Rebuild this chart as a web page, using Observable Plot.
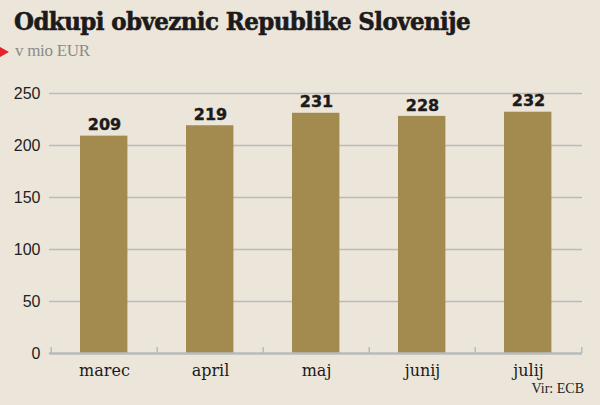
<!DOCTYPE html>
<html>
<head>
<meta charset="utf-8">
<script src="https://cdn.jsdelivr.net/npm/d3@7"></script>
<script src="https://cdn.jsdelivr.net/npm/@observablehq/plot@0.6"></script>
<style>
  html, body { margin: 0; padding: 0; background: #ece6da; }
  #wrap { position: relative; width: 600px; height: 405px; overflow: hidden; background: #ece6da; }
  #title { position: absolute; left: 14px; top: 7px; font-family: "DejaVu Serif", serif; font-weight: 900; font-size: 24px; color: #1c1a1a; white-space: nowrap; letter-spacing: -0.6px; transform-origin: 0 0; -webkit-text-stroke: 0.6px #1c1a1a; }
  #tri { position: absolute; left: 0; top: 47px; width: 0; height: 0; border-top: 5px solid transparent; border-bottom: 5px solid transparent; border-left: 9px solid #e3222b; }
  #subtitle { position: absolute; left: 15px; top: 41px; font-family: "Liberation Serif", serif; font-size: 17px; color: #8a8a8a; white-space: nowrap; letter-spacing: -0.3px; }
  #chart { position: absolute; left: 0; top: 70px; }
  #caption { position: absolute; right: 16px; top: 381px; font-family: "Liberation Serif", serif; font-size: 14px; color: #222; white-space: nowrap; }
</style>
</head>
<body>
<div id="wrap">
  <div id="title">Odkupi obveznic Republike Slovenije</div>
  <div id="tri"></div>
  <div id="subtitle">v mio EUR</div>
  <div id="chart"></div>
  <div id="caption">Vir: ECB</div>
</div>
<script>
const months = ["marec", "april", "maj", "junij", "julij"];
const values = [209, 219, 231, 228, 232];
const yTicks = [0, 50, 100, 150, 200, 250];

const data = months.map((m, i) => ({month: m, value: values[i]}));

const W = 600, H = 335, mL = 49, mR = 18;
const step = (W - mL - mR) / months.length;

const chart = Plot.plot({
  width: W,
  height: H,
  marginLeft: mL,
  marginRight: mR,
  marginTop: 23,
  marginBottom: 52,
  style: {background: "transparent", overflow: "visible"},
  x: {domain: months, padding: 0},
  y: {domain: [0, 250]},
  marks: [
    Plot.gridY(yTicks.filter(v => v > 0), {stroke: "#b7bbbd", strokeOpacity: 1, strokeWidth: 1.6}),
    Plot.axisY({ticks: yTicks, tickSize: 0, tickPadding: 9, fontSize: 16, fontFamily: "Liberation Sans, sans-serif", fill: "#222", label: null}),
    Plot.barY(data, {x: "month", y: "value", fill: "#a38b4f", insetLeft: 29, insetRight: 29.6}),
    Plot.ruleY([0], {stroke: "#b7bbbd", strokeWidth: 2.5}),
    Plot.ruleX(months, {x: d => d, dx: -step / 2, y1: 0, y2: 0, insetTop: -6, stroke: "#b7bbbd", strokeWidth: 1.5}),
    Plot.ruleX([months[months.length - 1]], {x: d => d, dx: step / 2, y1: 0, y2: 0, insetTop: -6, stroke: "#b7bbbd", strokeWidth: 1.5}),
    Plot.text(data, {x: "month", y: "value", text: d => String(d.value), dy: -11, fontSize: 16, fontWeight: 900, fontFamily: "DejaVu Sans, sans-serif", fill: "#1c1a1a", stroke: "#1c1a1a", strokeWidth: 0.4}),
    Plot.axisX({tickSize: 0, tickPadding: 11, fontSize: 16, fontFamily: "DejaVu Serif, serif", fill: "#1c1a1a", label: null})
  ]
});
document.getElementById("chart").appendChild(chart);

// fit title to reference width
const t = document.getElementById("title");
const w = t.getBoundingClientRect().width;
const target = 456;
t.style.transform = `scaleX(${target / w})`;
</script>
</body>
</html>
